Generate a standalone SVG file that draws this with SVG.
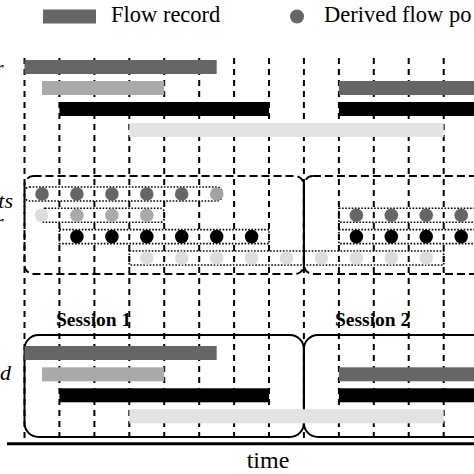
<svg xmlns="http://www.w3.org/2000/svg" width="474" height="474" viewBox="0 0 474 474">
<style>
.grid{stroke:#000;stroke-width:2;stroke-dasharray:6 5;fill:none}
.sess{stroke:#000;stroke-width:2;fill:none}
.dsess{stroke:#000;stroke-width:2;stroke-dasharray:8 4;fill:none}
.dot{stroke:#000;stroke-width:1.6;stroke-dasharray:1.6 1.6;fill:none}
.c1{fill:#666}.c2{fill:#aaa}.c3{fill:#000}.c4{fill:#e3e3e3}.c5{fill:#ddd}.c6{fill:#a2a2a2}
.serif{font-family:"Liberation Serif","Times New Roman",serif;fill:#000}
</style>
<rect width="474" height="474" fill="#fff"/>
<g id="legend">
<rect x="43" y="9.5" width="53" height="14" class="c1"/>
<text x="111" y="22" class="serif" font-size="22.5">Flow record</text>
<circle cx="297" cy="16.5" r="7" class="c1"/>
<text x="324" y="22" class="serif" font-size="22.5">Derived flow po</text>
</g>
<g id="side-labels" class="serif" font-size="22" font-style="italic">
<text x="-5" y="75">r</text>
<text x="13" y="208" text-anchor="end">ts</text>
<text x="-5" y="229">r</text>
<text x="0" y="380">d</text>
</g>
<g id="sessions">
<rect x="24.5" y="335" width="279.4" height="102" rx="14" class="sess"/>
<rect x="303.9" y="335" width="190" height="102" rx="14" class="sess"/>
<text x="56" y="326" class="serif" font-size="19.5" font-weight="bold">Session 1</text>
<text x="335" y="326" class="serif" font-size="19.5" font-weight="bold">Session 2</text>
</g>
<g id="grid">
<path class="grid" d="M24.5 58V444M59.4 58V444M94.4 58V444M129.3 58V444M164.2 58V444M199.2 58V444M234.1 58V444M269 58V444M303.9 58V444M338.9 58V444M373.8 58V444M408.7 58V444M443.7 58V444"/>
</g>
<g id="axis">
<line x1="7" y1="443.7" x2="474" y2="443.7" stroke="#000" stroke-width="3"/>
<text x="268" y="468" class="serif" font-size="24" text-anchor="middle">time</text>
</g>
<g id="flow-records">
<rect x="24.5" y="60" width="192.2" height="14" class="c1"/>
<rect x="42" y="81" width="122.2" height="14" class="c2"/>
<rect x="338.9" y="81" width="136" height="14" class="c1"/>
<rect x="59.4" y="102" width="209.6" height="14" class="c3"/>
<rect x="338.9" y="102" width="136" height="14" class="c3"/>
<rect x="129.3" y="123" width="314.4" height="14" class="c4"/>
</g>
<g id="aggregated">
<rect x="24.5" y="346" width="192.2" height="14" class="c1"/>
<rect x="42" y="367.3" width="122.2" height="14" class="c2"/>
<rect x="338.9" y="367.3" width="136" height="14" class="c1"/>
<rect x="59.4" y="388.3" width="209.6" height="14" class="c3"/>
<rect x="338.9" y="388.3" width="136" height="14" class="c3"/>
<rect x="129.3" y="409.3" width="314.4" height="14" class="c4"/>
</g>
<g id="derived-sessions">
<rect x="24.5" y="176" width="279.4" height="98" rx="9" class="dsess"/>
<rect x="303.9" y="176" width="190" height="98" rx="9" class="dsess"/>
<line x1="303.9" y1="183" x2="303.9" y2="268" stroke="#000" stroke-width="2"/>
</g>
<g id="derived-points">
<rect x="24.5" y="187" width="197.5" height="14" rx="5" class="dot"/>
<rect x="41" y="208.3" width="123.2" height="14" rx="4" class="dot"/>
<rect x="59.4" y="229.6" width="209.6" height="14" class="dot"/>
<rect x="129.3" y="251" width="314.4" height="14" class="dot"/>
<rect x="338.9" y="208.3" width="140" height="14" class="dot"/>
<rect x="338.9" y="229.6" width="140" height="14" class="dot"/>
<g class="c1">
<circle cx="42" cy="194" r="6.8"/><circle cx="76.9" cy="194" r="6.8"/><circle cx="111.9" cy="194" r="6.8"/><circle cx="146.8" cy="194" r="6.8"/><circle cx="181.7" cy="194" r="6.8"/>
<circle cx="356.4" cy="215.3" r="6.8"/><circle cx="391.3" cy="215.3" r="6.8"/><circle cx="426.2" cy="215.3" r="6.8"/><circle cx="461.2" cy="215.3" r="6.8"/>
</g>
<circle cx="216.7" cy="194" r="6.8" class="c6"/>
<circle cx="41.5" cy="215.3" r="6.8" class="c5"/>
<g class="c2">
<circle cx="76.9" cy="215.3" r="6.8"/><circle cx="111.9" cy="215.3" r="6.8"/><circle cx="146.8" cy="215.3" r="6.8"/>
</g>
<g class="c3">
<circle cx="76.9" cy="236.6" r="6.8"/><circle cx="111.9" cy="236.6" r="6.8"/><circle cx="146.8" cy="236.6" r="6.8"/><circle cx="181.7" cy="236.6" r="6.8"/><circle cx="216.7" cy="236.6" r="6.8"/><circle cx="251.6" cy="236.6" r="6.8"/>
<circle cx="356.4" cy="236.6" r="6.8"/><circle cx="391.3" cy="236.6" r="6.8"/><circle cx="426.2" cy="236.6" r="6.8"/><circle cx="461.2" cy="236.6" r="6.8"/>
</g>
<g class="c5">
<circle cx="146.8" cy="258" r="6.8"/><circle cx="181.7" cy="258" r="6.8"/><circle cx="216.7" cy="258" r="6.8"/><circle cx="251.6" cy="258" r="6.8"/><circle cx="286.5" cy="258" r="6.8"/><circle cx="321.4" cy="258" r="6.8"/><circle cx="356.4" cy="258" r="6.8"/><circle cx="391.3" cy="258" r="6.8"/><circle cx="426.2" cy="258" r="6.8"/>
</g>
</g>
</svg>
